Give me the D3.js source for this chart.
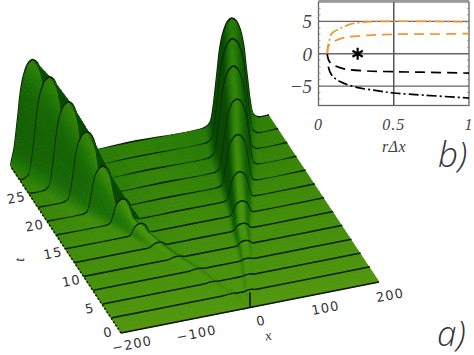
<!DOCTYPE html>
<html>
<head>
<meta charset="utf-8">
<script src="https://cdn.jsdelivr.net/npm/d3@7"></script>
<style>
  html, body { margin: 0; padding: 0; background: #fff; }
  svg { display: block; }
</style>
</head>
<body>
<script>
// surface rows
const rowT = [0, 2.5, 5, 7.5, 10, 12.5, 15, 17.5, 20, 22.5, 25, 27.5, 30];
const leftX = [-6, -14, -30, -39, -56, -71, -85, -98, -115, -126, -140, -155, -167];
const leftZ = [0, 0.5, 0.6, 0.8, 1.5, 3.5, 10.5, 23, 44, 66, 84, 97, 102];
const leftW = [4, 10, 10, 11, 12, 13, 15, 19, 23, 27, 29, 31, 32];
const rightX = [6, 14, 26, 38, 49, 59, 72, 83, 94, 107, 116, 129, 142];
const rightZ = [0, 1, 1, 1.5, 4, 6, 13, 27, 49, 69, 87, 99, 104];
const rightW = [4, 8, 9, 10, 12, 14, 16, 19, 23, 26, 29, 31, 33];
const stemZ = 15;

// pulse outline (offset in pulse widths, height as a fraction of the peak)
const pulseU = [-1.25, -1, -0.86, -0.78, -0.67, -0.55, -0.4, -0.2, 0, 0.2, 0.4, 0.55, 0.67, 0.78, 0.86, 1, 1.25];
const pulseV = [0, 0.04, 0.17, 0.3, 0.5, 0.72, 0.87, 0.97, 1, 0.97, 0.87, 0.72, 0.5, 0.3, 0.17, 0.04, 0];

const xTicks3d = [-200, -100, 0, 100, 200];
const tTicks3d = [0, 5, 10, 15, 20, 25];

// inset curves
const orangeOuter = [[0.059, 0], [0.063, 1.2], [0.076, 2.4], [0.087, 3.1], [0.143, 3.9], [0.22, 4.6], [0.32, 4.9], [0.5, 5.0], [0.7, 5.0], [1, 4.9]];
const orangeInner = [[0.059, 0], [0.065, 1.1], [0.099, 1.85], [0.176, 2.5], [0.32, 2.83], [0.5, 3.0], [0.74, 3.03], [1, 3.1]];
const blackInner = [[0.059, 0], [0.06, -0.4], [0.072, -1.2], [0.099, -1.75], [0.176, -2.37], [0.32, -2.67], [0.5, -2.78], [0.74, -2.88], [1, -3.0]];
const blackOuter = [[0.065, -2.0], [0.087, -3.3], [0.143, -4.3], [0.253, -5.2], [0.387, -5.7], [0.5, -6.07], [0.7, -6.4], [1, -6.84]];
const starPoint = [0.26, 0];
const insetYTicks = [5, 0, -5];
const insetXTicks = [0, 0.5, 1];

const width = 474;
const height = 355;

const svg = d3.select('body').append('svg')
    .attr('width', width)
    .attr('height', height);

// parallelogram projection of the floor, z goes straight up
const xToPx = d3.scaleLinear().domain([-200, 200]).range([0, 258]);
const xToPy = d3.scaleLinear().domain([-200, 200]).range([0, -51]);
const tToPx = d3.scaleLinear().domain([0, 30]).range([121, 11]);
const tToPy = d3.scaleLinear().domain([0, 30]).range([333, 167]);
const project = (x, t, z) => [xToPx(x) + tToPx(t), xToPy(x) + tToPy(t) - z];

const pulse = d3.scaleLinear().domain(pulseU).range(pulseV).clamp(true);

// every row has the same knots so quads follow the ridges
const rows = rowT.map((t, i) => {
    const pts = [[-200, t, 0]];
    let leftEnd = -200;
    pulseU.forEach(u => {
        let x = leftX[i] + u * leftW[i];
        let z = leftZ[i] * pulse(u);
        if (x < -200) {
            x = -200;
            z = leftZ[i] * pulse((-200 - leftX[i]) / leftW[i]);
        }
        leftEnd = x;
        pts.push([x, t, z]);
    });
    const rightStart = rightX[i] + pulseU[0] * rightW[i];
    pts.push([(leftEnd + rightStart) / 2, t, 0]);
    pulseU.forEach(u => pts.push([rightX[i] + u * rightW[i], t, rightZ[i] * pulse(u)]));
    pts.push([200, t, 0]);
    return pts;
});

// shading: facet brightness, then averaged to the knots
const light = [-0.08, -0.5, 0.86];
const facetLight = (a, b, c, d) => {
    const w = p => [p[0] * 0.66, p[1] * 6.6, p[2]];
    const [p, q, r, s] = [w(a), w(b), w(c), w(d)];
    const u = [r[0] - p[0], r[1] - p[1], r[2] - p[2]];
    const v = [s[0] - q[0], s[1] - q[1], s[2] - q[2]];
    let n = [u[1] * v[2] - u[2] * v[1], u[2] * v[0] - u[0] * v[2], u[0] * v[1] - u[1] * v[0]];
    const len = Math.hypot(n[0], n[1], n[2]);
    if (len < 1e-6) return null;
    n = n.map(e => e / len);
    if (n[2] < 0) n = n.map(e => -e);
    return (n[0] * light[0] + n[1] * light[1] + n[2] * light[2]) / light[2];
};

const nRows = rows.length;
const nCols = rows[0].length;
const facets = d3.range(1, nRows).map(k => d3.range(nCols - 1).map(i =>
    facetLight(rows[k][i], rows[k][i + 1], rows[k - 1][i + 1], rows[k - 1][i])));
const knotLight = d3.range(nRows).map(k => d3.range(nCols).map(i => {
    const near = [];
    [k - 1, k].forEach(s => [i - 1, i].forEach(c => {
        if (s >= 0 && s < facets.length && c >= 0 && c < nCols - 1 && facets[s][c] !== null) near.push(facets[s][c]);
    }));
    return near.length ? d3.mean(near) : 1;
}));

const plainByT = d3.scaleLinear().domain([0, 30]).range(['#52970e', '#2f8006']);
const colorOf = (rel, t) => d3.scaleLinear()
    .domain([0.2, 0.7, 1, 1.25])
    .range(['#0a4a03', '#1d7407', plainByT(t), '#4fa012'])
    .clamp(true)(rel);

const surface = svg.append('g');
const rowLine = d3.line().curve(d3.curveCatmullRom.alpha(0.5));
const mix = (a, b, f) => a + (b - a) * f;
const steps = 4;

// back to front
for (let k = nRows - 1; k >= 1; k--) {
    const back = rows[k];
    const front = rows[k - 1];
    surface.append('path')
        .attr('d', rowLine(back.map(p => project(p[0], p[1], p[2]))
            .filter((p, i, arr) => i === 0 || p[0] !== arr[i - 1][0])))
        .attr('transform', 'translate(0,-1)')
        .attr('fill', 'none')
        .attr('stroke', '#0b2405')
        .attr('stroke-width', 2.2);
    for (let i = 0; i < nCols - 1; i++) {
        if (back[i + 1][0] === back[i][0] && front[i + 1][0] === front[i][0]) continue;
        for (let a = 0; a < steps; a++) {
            for (let b = 0; b < steps; b++) {
                // bilinear patch inside one quad
                const at = (fa, fb) => {
                    const pt = [0, 1, 2].map(e => mix(
                        mix(back[i][e], back[i + 1][e], fb),
                        mix(front[i][e], front[i + 1][e], fb), fa));
                    const rel = mix(
                        mix(knotLight[k][i], knotLight[k][i + 1], fb),
                        mix(knotLight[k - 1][i], knotLight[k - 1][i + 1], fb), fa);
                    return { pt, rel };
                };
                const c = [at(a / steps, b / steps), at(a / steps, (b + 1) / steps),
                    at((a + 1) / steps, (b + 1) / steps), at((a + 1) / steps, b / steps)];
                const mid = at((a + 0.5) / steps, (b + 0.5) / steps);
                const col = colorOf(mid.rel, mid.pt[1]);
                surface.append('path')
                    .attr('d', 'M' + c.map(e => project(e.pt[0], e.pt[1], e.pt[2]).join(',')).join('L') + 'Z')
                    .attr('fill', col)
                    .attr('stroke', col)
                    .attr('stroke-width', 0.9);
            }
        }
    }
}

// floor edges and the start spike
const edge = (x1, t1, x2, t2) => {
    const a = project(x1, t1, 0);
    const b = project(x2, t2, 0);
    return surface.append('line')
        .attr('x1', a[0]).attr('y1', a[1])
        .attr('x2', b[0]).attr('y2', b[1])
        .attr('stroke', '#111');
};
edge(-200, 0, 200, 0).attr('stroke-width', 1.6);
edge(-200, 0, -200, 30).attr('stroke-width', 1.5).attr('stroke-dasharray', '2 2');
const stemA = project(0, 0, 0);
const stemB = project(0, 0, stemZ);
surface.append('line')
    .attr('x1', stemA[0]).attr('y1', stemA[1])
    .attr('x2', stemB[0]).attr('y2', stemB[1])
    .attr('stroke', '#111')
    .attr('stroke-width', 1.6);

// 3d axis labels
const axisLabel = (s, px, py) => svg.append('text')
    .attr('transform', `translate(${px},${py}) rotate(-11)`)
    .attr('text-anchor', 'middle')
    .attr('dy', '0.36em')
    .attr('font-family', 'DejaVu Sans')
    .attr('font-size', 13)
    .attr('letter-spacing', 1.2)
    .attr('fill', '#333')
    .text(s);

xTicks3d.forEach(v => {
    const p = project(v, 0, 0);
    axisLabel(String(v).replace('-', '\u2212'), p[0] + 11, p[1] + (v === -200 ? 11 : 13));
});
tTicks3d.forEach(v => {
    const p = project(-200, v, 0);
    axisLabel(String(v), p[0] - 13, p[1] + (v === 0 ? -1 : 3));
});

svg.append('text')
    .attr('transform', 'translate(269,340) rotate(-11)')
    .attr('text-anchor', 'middle')
    .attr('font-family', 'Liberation Serif')
    .attr('font-style', 'italic')
    .attr('font-size', 14)
    .attr('fill', '#333')
    .text('x');
svg.append('text')
    .attr('transform', 'translate(20,260) rotate(-95)')
    .attr('text-anchor', 'middle')
    .attr('dy', '0.3em')
    .attr('font-family', 'Liberation Serif')
    .attr('font-style', 'italic')
    .attr('font-size', 14)
    .attr('fill', '#333')
    .text('t');

// inset b)
const xScale = d3.scaleLinear().domain([0, 1]).range([318.5, 469]);
const yScale = d3.scaleLinear().domain([-8, 8]).range([105.5, 1.9]);
const inset = svg.append('g');

inset.append('rect')
    .attr('x', xScale(0)).attr('y', yScale(8))
    .attr('width', xScale(1) - xScale(0))
    .attr('height', yScale(-8) - yScale(8))
    .attr('fill', '#fff')
    .attr('stroke', '#666')
    .attr('stroke-width', 1.3);
inset.append('line')
    .attr('x1', xScale(0)).attr('x2', xScale(1))
    .attr('y1', 1).attr('y2', 1)
    .attr('stroke', '#999')
    .attr('stroke-width', 2);

d3.range(-7, 8).forEach(v => {
    [[xScale(0), 2], [xScale(1), -2]].forEach(([px, len]) => {
        inset.append('line')
            .attr('x1', px).attr('x2', px + len)
            .attr('y1', yScale(v)).attr('y2', yScale(v))
            .attr('stroke', '#888')
            .attr('stroke-width', 0.8);
    });
});

insetYTicks.forEach(v => {
    inset.append('line')
        .attr('x1', xScale(0)).attr('x2', xScale(1))
        .attr('y1', yScale(v)).attr('y2', yScale(v))
        .attr('stroke', '#666')
        .attr('stroke-width', 1.4);
    inset.append('text')
        .attr('x', 312)
        .attr('y', yScale(v))
        .attr('dy', '0.36em')
        .attr('text-anchor', 'end')
        .attr('font-family', 'Liberation Serif')
        .attr('font-style', 'italic')
        .attr('font-size', 19)
        .attr('fill', '#444')
        .text(String(v).replace('-', '\u2212'));
});
inset.append('line')
    .attr('x1', xScale(0.5)).attr('x2', xScale(0.5))
    .attr('y1', yScale(8)).attr('y2', yScale(-8))
    .attr('stroke', '#555')
    .attr('stroke-width', 1.5);

insetXTicks.forEach(v => {
    inset.append('text')
        .attr('x', xScale(v))
        .attr('y', 130)
        .attr('text-anchor', 'middle')
        .attr('font-family', 'Liberation Serif')
        .attr('font-style', 'italic')
        .attr('font-size', 16)
        .attr('letter-spacing', 1)
        .attr('fill', '#444')
        .text(v);
});

const curve = d3.line()
    .x(d => xScale(d[0]))
    .y(d => yScale(d[1]))
    .curve(d3.curveCatmullRom);

inset.append('path').attr('d', curve(orangeOuter)).attr('fill', 'none')
    .attr('stroke', '#f0982f').attr('stroke-width', 1.7).attr('stroke-dasharray', '10 3 2 3');
inset.append('path').attr('d', curve(orangeInner)).attr('fill', 'none')
    .attr('stroke', '#f0982f').attr('stroke-width', 1.7).attr('stroke-dasharray', '10 6');
inset.append('path').attr('d', curve(blackInner)).attr('fill', 'none')
    .attr('stroke', '#000').attr('stroke-width', 1.7).attr('stroke-dasharray', '10 6');
inset.append('path').attr('d', curve(blackOuter)).attr('fill', 'none')
    .attr('stroke', '#000').attr('stroke-width', 1.7).attr('stroke-dasharray', '10 3 2 3');

inset.append('path')
    .attr('d', d3.symbol().type(d3.symbolAsterisk).size(100)())
    .attr('transform', `translate(${xScale(starPoint[0])},${yScale(starPoint[1])})`)
    .attr('fill', 'none')
    .attr('stroke', '#000')
    .attr('stroke-width', 2.2);

svg.append('text')
    .attr('x', 394).attr('y', 152)
    .attr('text-anchor', 'middle')
    .attr('font-family', 'Liberation Serif')
    .attr('font-style', 'italic')
    .attr('font-size', 16)
    .attr('letter-spacing', 0.5)
    .attr('fill', '#444')
    .text('r\u0394x');

// panel letters
const panelLetter = (s, px, py) => svg.append('text')
    .attr('x', px).attr('y', py)
    .attr('font-family', 'Open Sans')
    .attr('font-style', 'italic')
    .attr('font-weight', 300)
    .attr('font-size', 35)
    .attr('fill', '#333')
    .text(s);
panelLetter('b)', 438, 167);
panelLetter('a)', 437, 346);
</script>
</body>
</html>
